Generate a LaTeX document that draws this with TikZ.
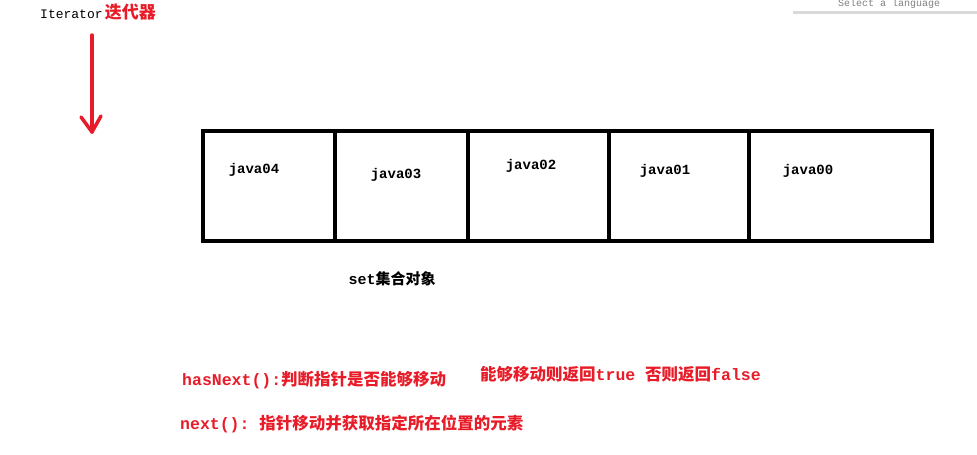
\documentclass[tikz,border=0pt]{standalone}
\usepackage{fontspec}
\setmonofont{Liberation Mono}
\newfontfamily\cjk{Noto Sans CJK SC}
\definecolor{myred}{RGB}{232,28,40}
\begin{document}
\begin{tikzpicture}[x=1pt,y=-1pt,
  cell/.style={font=\ttfamily\bfseries\fontsize{14}{16}\selectfont},
  redtxt/.style={text=myred,font=\ttfamily\bfseries\fontsize{16.5}{19}\selectfont,anchor=west,inner sep=0},
  box/.style={line width=3.5pt}]
\useasboundingbox (0,0) rectangle (977,455);
% popup artifact
\fill[black!15] (793,0) rectangle (977,14);
\fill[white] (791,0) rectangle (977,11);
\node[anchor=west,text=gray,font=\ttfamily\fontsize{10}{11}\selectfont,inner sep=0] (lang) at (838,4) {Select a language};
\node[anchor=west,inner sep=0] (it) at (40,12) {\ttfamily\fontsize{13}{15}\selectfont Iterator\,\textcolor{myred}{\cjk\bfseries\fontsize{17}{19}\selectfont 迭代器}};
\coordinate (a1) at (92,35);
\coordinate (a2) at (92,132);
\draw[myred,line width=3.5pt,line cap=round] (a1) -- (a2);
\draw[myred,line width=3.5pt,line cap=round,line join=round] (81,117) -- (a2) -- (101,116);
\draw[box] (203,131) rectangle (932,241);
\foreach \x in {335,468,609,749} \draw[box] (\x,131) -- (\x,241);
\node[cell] (j4) at (254,170) {java04};
\node[cell] (j3) at (396,175) {java03};
\node[cell] (j2) at (531,166) {java02};
\node[cell] (j1) at (665,171) {java01};
\node[cell] (j0) at (808,171) {java00};
\node[font=\ttfamily\bfseries\fontsize{15}{17}\selectfont] (set) at (392,279) {set{\cjk\bfseries 集合对象}};
\node[redtxt] (hn) at (182,380) {hasNext():{\cjk 判断指针是否能够移动}};
\node[redtxt] (hn2) at (480,374) {{\cjk 能够移动则返回}true {\cjk 否则返回}false};
\node[redtxt] (nx) at (180,424) {next(): {\cjk 指针移动并获取指定所在位置的元素}};
\end{tikzpicture}
\end{document}
